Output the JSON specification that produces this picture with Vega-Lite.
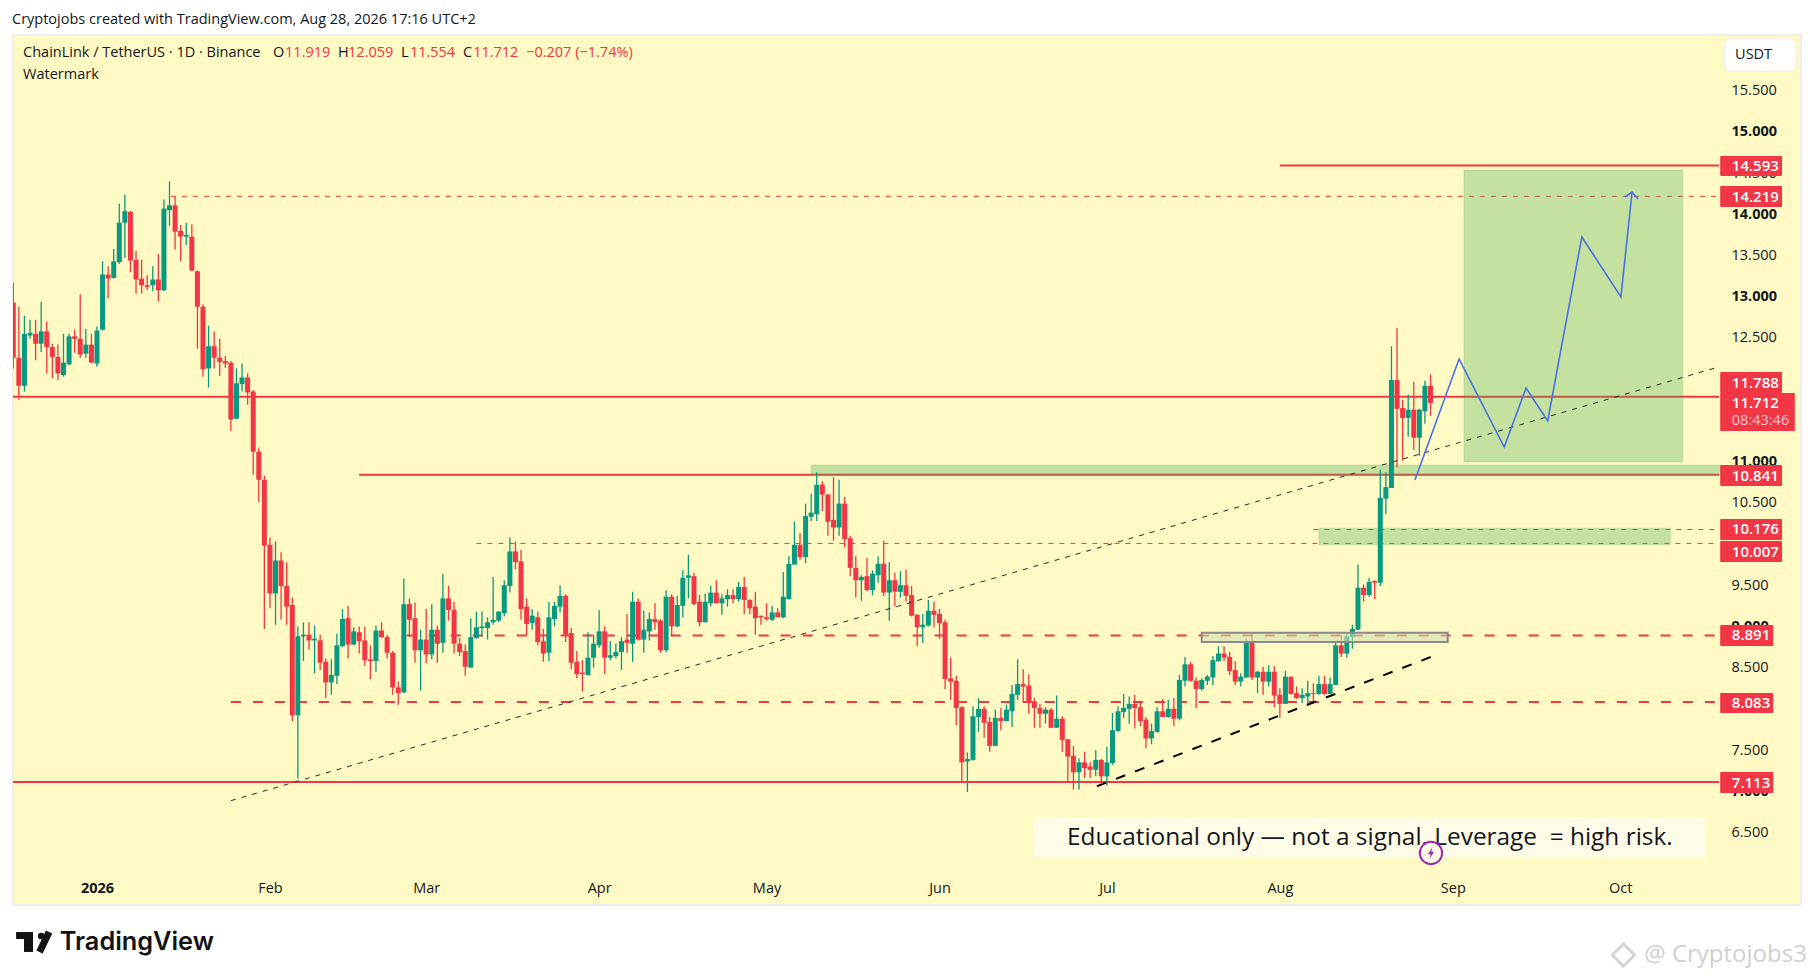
{
  "$schema": "https://vega.github.io/schema/vega-lite/v6.json",
  "width": 1788,
  "height": 870,
  "autosize": "none",
  "padding": {"left": 13, "top": 35, "right": 13, "bottom": 75},
  "background": "#ffffff",
  "title": {"text": "Cryptojobs created with TradingView.com, Aug 28, 2026 17:16 UTC+2", "anchor": "start", "frame": "group", "offset": 8, "dx": -1, "font": "Open Sans", "fontSize": 14.5, "fontWeight": "normal", "color": "#131722"},
  "config": {"view": {"fill": "#fff9c4", "stroke": "#eeeeee", "strokeWidth": 2}},
  "encoding": {
    "x": {"field": "date", "type": "temporal", "title": null,
      "scale": {"type": "utc", "padding": 0, "domain": ["2025-12-16T22:48:00Z", "2026-11-02T09:36:00Z"]},
      "axis": {"orient": "bottom", "offset": -24, "domain": false, "ticks": false, "grid": false, "labelPadding": 0, "labelBaseline": "top", "labelFont": "Open Sans", "labelFontSize": 14.5, "labelColor": "#131722", "labelOverlap": false, "labelFlush": false,
        "values": ["2026-01-01", "2026-02-01", "2026-03-01", "2026-04-01", "2026-05-01", "2026-06-01", "2026-07-01", "2026-08-01", "2026-09-01", "2026-10-01"],
        "labelExpr": "utcmonth(datum.value)===0 ? '2026' : utcFormat(datum.value,'%b')",
        "labelFontWeight": {"condition": {"test": "utcmonth(datum.value)===0", "value": "bold"}, "value": "normal"}}},
    "y": {"field": "price", "type": "quantitative", "title": null,
      "scale": {"domain": [5.619, 16.177], "zero": false, "nice": false},
      "axis": {"orient": "right", "offset": -70, "domain": false, "ticks": false, "grid": false, "labelPadding": 0, "labelFont": "Open Sans", "labelFontSize": 14.5, "labelColor": "#131722", "format": ".3f", "labelOverlap": false, "labelFlush": false,
        "values": [6.5, 7, 7.5, 8.5, 9, 9.5, 10.5, 11, 12.5, 13, 13.5, 14, 14.5, 15, 15.5],
        "labelFontWeight": {"condition": {"test": "datum.value % 1 === 0", "value": "bold"}, "value": "normal"}}}
  },
  "layer": [
    {
      "data": {"values": [
        {"date": "2025-12-16", "date2": "2026-10-18T17:00:00Z", "price": 11.788},
        {"date": "2025-12-16", "date2": "2026-10-18T17:00:00Z", "price": 7.113},
        {"date": "2026-08-01", "date2": "2026-10-18T17:00:00Z", "price": 14.593},
        {"date": "2026-02-17", "date2": "2026-10-18T17:00:00Z", "price": 10.841}
      ], "format": {"parse": {"date": "date", "date2": "date"}}},
      "mark": {"type": "rule", "color": "#f23645", "strokeWidth": 2, "clip": true},
      "encoding": {"x2": {"field": "date2"}}
    },
    {
      "data": {"values": [
        {"date": "2026-01-14T06:00:00Z", "date2": "2026-10-18T17:00:00Z", "price": 14.219},
        {"date": "2026-08-07", "date2": "2026-10-18T17:00:00Z", "price": 10.176},
        {"date": "2026-03-10", "date2": "2026-10-18T17:00:00Z", "price": 10.007}
      ], "format": {"parse": {"date": "date", "date2": "date"}}},
      "mark": {"type": "rule", "color": "#f23645", "strokeWidth": 1, "strokeDash": [5, 6]},
      "encoding": {"x2": {"field": "date2"}}
    },
    {
      "data": {"values": [
        {"date": "2026-02-25T12:00:00Z", "date2": "2026-10-18T17:00:00Z", "price": 8.891},
        {"date": "2026-01-25", "date2": "2026-10-18T17:00:00Z", "price": 8.083}
      ], "format": {"parse": {"date": "date", "date2": "date"}}},
      "mark": {"type": "rule", "color": "#f23645", "strokeWidth": 2, "strokeDash": [10, 12]},
      "encoding": {"x2": {"field": "date2"}}
    },
    {
      "data": {"values": [
        {"date": "2026-09-03", "date2": "2026-10-12T05:00:00Z", "price": 14.539, "price2": 10.995},
        {"date": "2026-05-09", "date2": "2026-10-19T06:00:00Z", "price": 10.959, "price2": 10.841},
        {"date": "2026-08-08", "date2": "2026-10-10", "price": 10.19, "price2": 9.99}
      ], "format": {"parse": {"date": "date", "date2": "date"}}},
      "mark": {"type": "rect", "color": "#4caf50", "fillOpacity": 0.32, "stroke": "#4caf50", "strokeOpacity": 0.1, "strokeWidth": 2},
      "encoding": {"x2": {"field": "date2"}, "y2": {"field": "price2"}}
    },
    {
      "data": {"name": "candles"},
      "mark": {"type": "rule", "strokeWidth": 1.3, "clip": true},
      "encoding": {
        "y": {"field": "h", "type": "quantitative", "title": null,
          "axis": {"orient": "right", "offset": -70, "domain": false, "ticks": false, "grid": false, "labelPadding": 0, "labelFont": "Open Sans", "labelFontSize": 14.5, "labelColor": "#131722", "format": ".3f", "labelOverlap": false, "labelFlush": false,
            "values": [6.5, 7, 7.5, 8.5, 9, 9.5, 10.5, 11, 12.5, 13, 13.5, 14, 14.5, 15, 15.5],
            "labelFontWeight": {"condition": {"test": "datum.value % 1 === 0", "value": "bold"}, "value": "normal"}},
          "scale": {"domain": [5.619, 16.177], "zero": false, "nice": false}},
        "y2": {"field": "l"},
        "color": {"condition": {"test": "datum.c < datum.o", "value": "#f23645"}, "value": "#089981"}
      }
    },
    {
      "data": {"name": "candles"},
      "mark": {"type": "bar", "size": 5, "clip": true},
      "encoding": {
        "y": {"field": "o", "type": "quantitative", "title": null,
          "axis": {"orient": "right", "offset": -70, "domain": false, "ticks": false, "grid": false, "labelPadding": 0, "labelFont": "Open Sans", "labelFontSize": 14.5, "labelColor": "#131722", "format": ".3f", "labelOverlap": false, "labelFlush": false,
            "values": [6.5, 7, 7.5, 8.5, 9, 9.5, 10.5, 11, 12.5, 13, 13.5, 14, 14.5, 15, 15.5],
            "labelFontWeight": {"condition": {"test": "datum.value % 1 === 0", "value": "bold"}, "value": "normal"}},
          "scale": {"domain": [5.619, 16.177], "zero": false, "nice": false}},
        "y2": {"field": "c"},
        "color": {"condition": {"test": "datum.c < datum.o", "value": "#f23645"}, "value": "#089981"}
      }
    },
    {
      "data": {"values": [{"date": "2026-07-18", "date2": "2026-08-31T02:00:00Z", "price": 8.924, "price2": 8.811}], "format": {"parse": {"date": "date", "date2": "date"}}},
      "mark": {"type": "rect", "fill": "#cfe0b0", "fillOpacity": 0.6, "stroke": "#8a8a8a", "strokeWidth": 2},
      "encoding": {"x2": {"field": "date2"}, "y2": {"field": "price2"}}
    },
    {
      "data": {"values": [{"date": "2026-01-25", "price": 6.885}, {"date": "2026-10-18", "price": 12.136}]},
      "mark": {"type": "line", "color": "#2a2a2a", "strokeWidth": 1, "strokeDash": [5, 6]}
    },
    {
      "data": {"values": [{"date": "2026-06-29T05:00:00Z", "price": 7.06}, {"date": "2026-08-28T02:00:00Z", "price": 8.63}]},
      "mark": {"type": "line", "color": "#000000", "strokeWidth": 2, "strokeDash": [10, 10.47]}
    },
    {
      "data": {"values": [
        {"leg": "path", "date": "2026-08-25T05:00:00Z", "price": 10.777},
        {"leg": "path", "date": "2026-09-02T03:00:00Z", "price": 12.245},
        {"leg": "path", "date": "2026-09-10T05:00:00Z", "price": 11.177},
        {"leg": "path", "date": "2026-09-14T03:00:00Z", "price": 11.893},
        {"leg": "path", "date": "2026-09-18", "price": 11.493},
        {"leg": "path", "date": "2026-09-24T03:00:00Z", "price": 13.726},
        {"leg": "path", "date": "2026-10-01T03:00:00Z", "price": 12.998},
        {"leg": "path", "date": "2026-10-03T03:00:00Z", "price": 14.272},
        {"leg": "head", "date": "2026-10-01T19:00:00Z", "price": 14.211},
        {"leg": "head", "date": "2026-10-03T03:00:00Z", "price": 14.272},
        {"leg": "head", "date": "2026-10-04T05:00:00Z", "price": 14.187}
      ]},
      "mark": {"type": "line", "color": "#4a72e8", "strokeWidth": 1.6},
      "encoding": {"detail": {"field": "leg"}}
    },
    {
      "data": {"values": [{"date": "2026-06-17T22:00:00Z", "date2": "2026-10-16T10:00:00Z", "price": 6.687, "price2": 6.189}], "format": {"parse": {"date": "date", "date2": "date"}}},
      "mark": {"type": "rect", "fill": "#fefbe6"},
      "encoding": {"x2": {"field": "date2"}, "y2": {"field": "price2"}}
    },
    {
      "data": {"values": [{"date": "2026-08-17T03:00:00Z", "price": 6.432, "label": "Educational only — not a signal. Leverage \u00a0= high risk."}]},
      "mark": {"type": "text", "font": "Open Sans", "fontSize": 24.4, "color": "#131722", "align": "center", "baseline": "middle"},
      "encoding": {"text": {"field": "label"}}
    },
    {
      "data": {"values": [{"date": "2026-08-28T02:00:00Z", "price": 6.25}]},
      "mark": {"type": "point", "shape": "circle", "filled": true, "fill": "#fff9e8", "stroke": "#9c27b0", "strokeWidth": 2, "size": 500, "opacity": 1}
    },
    {
      "data": {"values": [{"date": "2026-08-28T02:00:00Z", "price": 6.25}]},
      "mark": {"type": "point", "shape": "M0.25,-1 L-0.55,0.2 L-0.05,0.2 L-0.25,1 L0.55,-0.2 L0.05,-0.2 Z", "filled": true, "fill": "#9c27b0", "size": 130, "opacity": 1}
    },
    {
      "data": {"values": [
        {"date": "2026-10-18T22:00:00Z", "date2": "2026-10-30", "price": 14.71, "price2": 14.466},
        {"date": "2026-10-18T22:00:00Z", "date2": "2026-10-30", "price": 14.345, "price2": 14.09},
        {"date": "2026-10-18T22:00:00Z", "date2": "2026-10-30", "price": 12.087, "price2": 11.833},
        {"date": "2026-10-18T22:00:00Z", "date2": "2026-11-01T07:00:00Z", "price": 11.833, "price2": 11.371},
        {"date": "2026-10-18T22:00:00Z", "date2": "2026-10-30", "price": 10.959, "price2": 10.704},
        {"date": "2026-10-18T22:00:00Z", "date2": "2026-10-30", "price": 10.303, "price2": 10.049},
        {"date": "2026-10-18T22:00:00Z", "date2": "2026-10-30", "price": 10.036, "price2": 9.781},
        {"date": "2026-10-18T22:00:00Z", "date2": "2026-10-28T10:00:00Z", "price": 9.017, "price2": 8.762},
        {"date": "2026-10-18T22:00:00Z", "date2": "2026-10-28T10:00:00Z", "price": 8.192, "price2": 7.949},
        {"date": "2026-10-18T22:00:00Z", "date2": "2026-10-28T10:00:00Z", "price": 7.233, "price2": 6.978}
      ], "format": {"parse": {"date": "date", "date2": "date"}}},
      "mark": {"type": "rect", "fill": "#f23645", "cornerRadius": 1},
      "encoding": {"x2": {"field": "date2"}, "y2": {"field": "price2"}}
    },
    {
      "data": {"values": [
        {"date": "2026-10-21", "price": 14.588, "label": "14.593"},
        {"date": "2026-10-21", "price": 14.217, "label": "14.219"},
        {"date": "2026-10-21", "price": 11.954, "label": "11.788"},
        {"date": "2026-10-21", "price": 11.711, "label": "11.712"},
        {"date": "2026-10-21", "price": 10.83, "label": "10.841"},
        {"date": "2026-10-21", "price": 10.18, "label": "10.176"},
        {"date": "2026-10-21", "price": 9.9, "label": "10.007"},
        {"date": "2026-10-21", "price": 8.89, "label": "8.891"},
        {"date": "2026-10-21", "price": 8.07, "label": "8.083"},
        {"date": "2026-10-21", "price": 7.105, "label": "7.113"}
      ]},
      "mark": {"type": "text", "font": "Open Sans", "fontSize": 15, "fontWeight": 600, "color": "#ffffff", "align": "left", "baseline": "middle"},
      "encoding": {"text": {"field": "label"}}
    },
    {
      "data": {"values": [{"date": "2026-10-21", "price": 11.49, "label": "08:43:46"}]},
      "mark": {"type": "text", "font": "Open Sans", "fontSize": 14.5, "color": "#ffc4c9", "align": "left", "baseline": "middle"},
      "encoding": {"text": {"field": "label"}}
    },
    {
      "data": {"values": [{"date": "2026-10-19T17:00:00Z", "date2": "2026-11-01T12:00:00Z", "price": 16.13, "price2": 15.74}], "format": {"parse": {"date": "date", "date2": "date"}}},
      "mark": {"type": "rect", "fill": "#ffffff", "stroke": "#eeeeee", "cornerRadius": 6},
      "encoding": {"x2": {"field": "date2"}, "y2": {"field": "price2"}}
    },
    {
      "data": {"values": [
        {"date": "2026-10-21T14:00:00Z", "price": 15.93, "label": "USDT"},
        {"date": "2025-12-18T18:00:00Z", "price": 15.96, "label": "ChainLink / TetherUS · 1D · Binance"},
        {"date": "2025-12-18T18:00:00Z", "price": 15.69, "label": "Watermark"},
        {"date": "2026-02-01T13:00:00Z", "price": 15.96, "label": "O"},
        {"date": "2026-02-13T05:00:00Z", "price": 15.96, "label": "H"},
        {"date": "2026-02-24T12:00:00Z", "price": 15.96, "label": "L"},
        {"date": "2026-03-07T14:00:00Z", "price": 15.96, "label": "C"}
      ]},
      "mark": {"type": "text", "font": "Open Sans", "fontSize": 14.5, "color": "#131722", "align": "left", "baseline": "middle"},
      "encoding": {"text": {"field": "label"}}
    },
    {
      "data": {"values": [
        {"date": "2026-02-03T17:00:00Z", "price": 15.96, "label": "11.919"},
        {"date": "2026-02-15", "price": 15.96, "label": "12.059"},
        {"date": "2026-02-26T02:00:00Z", "price": 15.96, "label": "11.554"},
        {"date": "2026-03-09T10:00:00Z", "price": 15.96, "label": "11.712"},
        {"date": "2026-03-18T22:00:00Z", "price": 15.96, "label": "−0.207 (−1.74%)"}
      ]},
      "mark": {"type": "text", "font": "Open Sans", "fontSize": 14.5, "color": "#f23645", "align": "left", "baseline": "middle"},
      "encoding": {"text": {"field": "label"}}
    },
    {
      "data": {"values": [
        {"date": "2025-12-17T12:00:00Z", "date2": "2025-12-20T13:00:00Z", "price": 5.291, "price2": 5.206},
        {"date": "2025-12-18T22:00:00Z", "date2": "2025-12-20T13:00:00Z", "price": 5.291, "price2": 5.049}
      ], "format": {"parse": {"date": "date", "date2": "date"}}},
      "mark": {"type": "rect", "fill": "#131313"},
      "encoding": {"x2": {"field": "date2"}, "y2": {"field": "price2"}}
    },
    {
      "data": {"values": [{"date": "2025-12-22", "price": 5.243}]},
      "mark": {"type": "point", "shape": "circle", "filled": true, "fill": "#131313", "size": 45, "opacity": 1}
    },
    {
      "data": {"values": [{"date": "2025-12-21T17:00:00Z", "price": 5.049}, {"date": "2025-12-23T10:00:00Z", "price": 5.291}]},
      "mark": {"type": "line", "color": "#131313", "strokeWidth": 7}
    },
    {
      "data": {"values": [{"date": "2025-12-25T08:00:00Z", "price": 5.17, "label": "TradingView"}]},
      "mark": {"type": "text", "font": "Inter", "fontSize": 25.3, "fontWeight": 600, "color": "#131313", "align": "left", "baseline": "middle"},
      "encoding": {"text": {"field": "label"}}
    },
    {
      "data": {"values": [{"date": "2026-10-01T14:00:00Z", "price": 5.012}]},
      "mark": {"type": "point", "shape": "diamond", "filled": false, "stroke": "#d4d4d4", "strokeWidth": 3, "size": 500, "opacity": 1}
    },
    {
      "data": {"values": [{"date": "2026-10-05T07:00:00Z", "price": 5.012, "label": "@ Cryptojobs3"}]},
      "mark": {"type": "text", "font": "Open Sans", "fontSize": 24, "color": "#d0d0d0", "align": "left", "baseline": "middle"},
      "encoding": {"text": {"field": "label"}}
    }
  ],
  "datasets": {
    "candles": [
      {"date":"2025-12-17","o":12.93,"h":13.17,"l":12.13,"c":12.26},
      {"date":"2025-12-18","o":12.26,"h":12.88,"l":11.75,"c":11.92},
      {"date":"2025-12-19","o":11.92,"h":12.77,"l":11.85,"c":12.55},
      {"date":"2025-12-20","o":12.53,"h":12.72,"l":12.49,"c":12.56},
      {"date":"2025-12-21","o":12.55,"h":12.72,"l":12.23,"c":12.43},
      {"date":"2025-12-22","o":12.43,"h":12.94,"l":12.33,"c":12.58},
      {"date":"2025-12-23","o":12.58,"h":12.70,"l":12.07,"c":12.39},
      {"date":"2025-12-24","o":12.39,"h":12.43,"l":12.01,"c":12.27},
      {"date":"2025-12-25","o":12.27,"h":12.42,"l":11.99,"c":12.07},
      {"date":"2025-12-26","o":12.05,"h":12.55,"l":12.03,"c":12.20},
      {"date":"2025-12-27","o":12.18,"h":12.55,"l":12.17,"c":12.52},
      {"date":"2025-12-28","o":12.52,"h":12.60,"l":12.32,"c":12.49},
      {"date":"2025-12-29","o":12.49,"h":13.03,"l":12.26,"c":12.30},
      {"date":"2025-12-30","o":12.31,"h":12.61,"l":12.26,"c":12.42},
      {"date":"2025-12-31","o":12.42,"h":12.55,"l":12.20,"c":12.20},
      {"date":"2026-01-01","o":12.19,"h":12.64,"l":12.15,"c":12.59},
      {"date":"2026-01-02","o":12.60,"h":13.43,"l":12.59,"c":13.27},
      {"date":"2026-01-03","o":13.27,"h":13.37,"l":12.98,"c":13.22},
      {"date":"2026-01-04","o":13.23,"h":13.58,"l":13.22,"c":13.43},
      {"date":"2026-01-05","o":13.42,"h":14.13,"l":13.40,"c":13.90},
      {"date":"2026-01-06","o":13.90,"h":14.24,"l":13.47,"c":14.04},
      {"date":"2026-01-07","o":14.03,"h":14.04,"l":13.30,"c":13.44},
      {"date":"2026-01-08","o":13.45,"h":13.56,"l":13.04,"c":13.21},
      {"date":"2026-01-09","o":13.22,"h":13.45,"l":13.04,"c":13.14},
      {"date":"2026-01-10","o":13.14,"h":13.26,"l":13.08,"c":13.12},
      {"date":"2026-01-11","o":13.14,"h":13.37,"l":13.07,"c":13.21},
      {"date":"2026-01-12","o":13.21,"h":13.52,"l":12.94,"c":13.08},
      {"date":"2026-01-13","o":13.08,"h":14.18,"l":13.07,"c":14.07},
      {"date":"2026-01-14","o":14.05,"h":14.40,"l":13.86,"c":14.11},
      {"date":"2026-01-15","o":14.11,"h":14.22,"l":13.57,"c":13.79},
      {"date":"2026-01-16","o":13.80,"h":13.87,"l":13.43,"c":13.73},
      {"date":"2026-01-17","o":13.73,"h":13.90,"l":13.63,"c":13.75},
      {"date":"2026-01-18","o":13.73,"h":13.88,"l":13.31,"c":13.32},
      {"date":"2026-01-19","o":13.31,"h":13.32,"l":12.37,"c":12.88},
      {"date":"2026-01-20","o":12.88,"h":12.91,"l":12.03,"c":12.12},
      {"date":"2026-01-21","o":12.13,"h":12.65,"l":11.90,"c":12.40},
      {"date":"2026-01-22","o":12.40,"h":12.58,"l":12.13,"c":12.26},
      {"date":"2026-01-23","o":12.26,"h":12.49,"l":12.04,"c":12.21},
      {"date":"2026-01-24","o":12.22,"h":12.28,"l":12.14,"c":12.19},
      {"date":"2026-01-25","o":12.20,"h":12.22,"l":11.37,"c":11.51},
      {"date":"2026-01-26","o":11.52,"h":12.13,"l":11.52,"c":11.95},
      {"date":"2026-01-27","o":11.94,"h":12.19,"l":11.85,"c":12.02},
      {"date":"2026-01-28","o":12.02,"h":12.07,"l":11.69,"c":11.84},
      {"date":"2026-01-29","o":11.85,"h":11.87,"l":10.84,"c":11.12},
      {"date":"2026-01-30","o":11.12,"h":11.17,"l":10.51,"c":10.78},
      {"date":"2026-01-31","o":10.78,"h":10.83,"l":8.97,"c":9.98},
      {"date":"2026-02-01","o":9.99,"h":10.08,"l":9.22,"c":9.40},
      {"date":"2026-02-02","o":9.40,"h":10.03,"l":9.02,"c":9.80},
      {"date":"2026-02-03","o":9.80,"h":9.90,"l":9.08,"c":9.49},
      {"date":"2026-02-04","o":9.49,"h":9.78,"l":9.02,"c":9.24},
      {"date":"2026-02-05","o":9.26,"h":9.35,"l":7.85,"c":7.92},
      {"date":"2026-02-06","o":7.92,"h":9.00,"l":7.15,"c":8.88},
      {"date":"2026-02-07","o":8.88,"h":9.05,"l":8.58,"c":8.90},
      {"date":"2026-02-08","o":8.90,"h":9.05,"l":8.72,"c":8.83},
      {"date":"2026-02-09","o":8.83,"h":9.01,"l":8.43,"c":8.85},
      {"date":"2026-02-10","o":8.83,"h":8.90,"l":8.47,"c":8.56},
      {"date":"2026-02-11","o":8.57,"h":8.61,"l":8.13,"c":8.32},
      {"date":"2026-02-12","o":8.32,"h":8.60,"l":8.17,"c":8.41},
      {"date":"2026-02-13","o":8.40,"h":8.91,"l":8.30,"c":8.77},
      {"date":"2026-02-14","o":8.76,"h":9.21,"l":8.75,"c":9.09},
      {"date":"2026-02-15","o":9.10,"h":9.25,"l":8.61,"c":8.78},
      {"date":"2026-02-16","o":8.78,"h":8.99,"l":8.77,"c":8.94},
      {"date":"2026-02-17","o":8.93,"h":9.00,"l":8.67,"c":8.82},
      {"date":"2026-02-18","o":8.83,"h":9.00,"l":8.52,"c":8.59},
      {"date":"2026-02-19","o":8.60,"h":8.77,"l":8.36,"c":8.58},
      {"date":"2026-02-20","o":8.58,"h":9.01,"l":8.45,"c":8.95},
      {"date":"2026-02-21","o":8.95,"h":9.05,"l":8.86,"c":8.87},
      {"date":"2026-02-22","o":8.87,"h":8.90,"l":8.61,"c":8.68},
      {"date":"2026-02-23","o":8.68,"h":8.70,"l":8.17,"c":8.26},
      {"date":"2026-02-24","o":8.26,"h":8.33,"l":8.05,"c":8.19},
      {"date":"2026-02-25","o":8.20,"h":9.58,"l":8.19,"c":9.27},
      {"date":"2026-02-26","o":9.27,"h":9.34,"l":8.87,"c":9.08},
      {"date":"2026-02-27","o":9.10,"h":9.29,"l":8.56,"c":8.71},
      {"date":"2026-02-28","o":8.71,"h":8.96,"l":8.22,"c":8.84},
      {"date":"2026-03-01","o":8.84,"h":9.21,"l":8.55,"c":8.66},
      {"date":"2026-03-02","o":8.66,"h":9.27,"l":8.60,"c":8.96},
      {"date":"2026-03-03","o":8.96,"h":9.01,"l":8.56,"c":8.79},
      {"date":"2026-03-04","o":8.80,"h":9.64,"l":8.68,"c":9.34},
      {"date":"2026-03-05","o":9.34,"h":9.49,"l":9.07,"c":9.20},
      {"date":"2026-03-06","o":9.20,"h":9.30,"l":8.67,"c":8.79},
      {"date":"2026-03-07","o":8.79,"h":8.86,"l":8.64,"c":8.69},
      {"date":"2026-03-08","o":8.70,"h":8.78,"l":8.40,"c":8.51},
      {"date":"2026-03-09","o":8.50,"h":9.10,"l":8.50,"c":8.87},
      {"date":"2026-03-10","o":8.86,"h":9.18,"l":8.85,"c":8.99},
      {"date":"2026-03-11","o":8.98,"h":9.18,"l":8.87,"c":9.00},
      {"date":"2026-03-12","o":8.98,"h":9.11,"l":8.84,"c":9.05},
      {"date":"2026-03-13","o":9.05,"h":9.60,"l":9.02,"c":9.08},
      {"date":"2026-03-14","o":9.07,"h":9.18,"l":9.05,"c":9.18},
      {"date":"2026-03-15","o":9.16,"h":9.56,"l":9.12,"c":9.50},
      {"date":"2026-03-16","o":9.49,"h":10.08,"l":9.41,"c":9.91},
      {"date":"2026-03-17","o":9.91,"h":10.03,"l":9.69,"c":9.78},
      {"date":"2026-03-18","o":9.79,"h":9.93,"l":9.08,"c":9.21},
      {"date":"2026-03-19","o":9.24,"h":9.34,"l":8.89,"c":9.03},
      {"date":"2026-03-20","o":9.04,"h":9.21,"l":8.96,"c":9.13},
      {"date":"2026-03-21","o":9.11,"h":9.18,"l":8.77,"c":8.81},
      {"date":"2026-03-22","o":8.82,"h":8.97,"l":8.57,"c":8.67},
      {"date":"2026-03-23","o":8.68,"h":9.30,"l":8.58,"c":9.11},
      {"date":"2026-03-24","o":9.09,"h":9.30,"l":9.00,"c":9.25},
      {"date":"2026-03-25","o":9.24,"h":9.50,"l":9.17,"c":9.37},
      {"date":"2026-03-26","o":9.37,"h":9.39,"l":8.81,"c":8.90},
      {"date":"2026-03-27","o":8.92,"h":8.98,"l":8.48,"c":8.56},
      {"date":"2026-03-28","o":8.57,"h":8.70,"l":8.37,"c":8.42},
      {"date":"2026-03-29","o":8.44,"h":8.59,"l":8.21,"c":8.42},
      {"date":"2026-03-30","o":8.41,"h":8.93,"l":8.40,"c":8.62},
      {"date":"2026-03-31","o":8.62,"h":8.90,"l":8.50,"c":8.79},
      {"date":"2026-04-01","o":8.77,"h":9.20,"l":8.74,"c":8.94},
      {"date":"2026-04-02","o":8.94,"h":9.00,"l":8.42,"c":8.62},
      {"date":"2026-04-03","o":8.62,"h":8.82,"l":8.59,"c":8.65},
      {"date":"2026-04-04","o":8.64,"h":8.79,"l":8.61,"c":8.69},
      {"date":"2026-04-05","o":8.69,"h":8.87,"l":8.47,"c":8.82},
      {"date":"2026-04-06","o":8.84,"h":9.15,"l":8.68,"c":8.80},
      {"date":"2026-04-07","o":8.79,"h":9.42,"l":8.57,"c":9.30},
      {"date":"2026-04-08","o":9.30,"h":9.34,"l":8.83,"c":8.84},
      {"date":"2026-04-09","o":8.84,"h":9.19,"l":8.68,"c":8.96},
      {"date":"2026-04-10","o":8.94,"h":9.17,"l":8.83,"c":9.09},
      {"date":"2026-04-11","o":9.09,"h":9.28,"l":8.96,"c":9.05},
      {"date":"2026-04-12","o":9.07,"h":9.09,"l":8.68,"c":8.71},
      {"date":"2026-04-13","o":8.71,"h":9.44,"l":8.69,"c":9.36},
      {"date":"2026-04-14","o":9.36,"h":9.39,"l":8.88,"c":9.00},
      {"date":"2026-04-15","o":9.00,"h":9.37,"l":8.99,"c":9.26},
      {"date":"2026-04-16","o":9.25,"h":9.68,"l":9.11,"c":9.59},
      {"date":"2026-04-17","o":9.59,"h":9.87,"l":9.34,"c":9.62},
      {"date":"2026-04-18","o":9.61,"h":9.65,"l":9.26,"c":9.27},
      {"date":"2026-04-19","o":9.30,"h":9.38,"l":9.00,"c":9.05},
      {"date":"2026-04-20","o":9.05,"h":9.40,"l":9.05,"c":9.30},
      {"date":"2026-04-21","o":9.28,"h":9.49,"l":9.24,"c":9.41},
      {"date":"2026-04-22","o":9.41,"h":9.56,"l":9.28,"c":9.28},
      {"date":"2026-04-23","o":9.28,"h":9.39,"l":9.14,"c":9.34},
      {"date":"2026-04-24","o":9.33,"h":9.45,"l":9.24,"c":9.38},
      {"date":"2026-04-25","o":9.38,"h":9.45,"l":9.28,"c":9.33},
      {"date":"2026-04-26","o":9.33,"h":9.54,"l":9.30,"c":9.48},
      {"date":"2026-04-27","o":9.48,"h":9.60,"l":9.15,"c":9.32},
      {"date":"2026-04-28","o":9.32,"h":9.33,"l":9.15,"c":9.22},
      {"date":"2026-04-29","o":9.24,"h":9.42,"l":8.90,"c":9.10},
      {"date":"2026-04-30","o":9.13,"h":9.13,"l":9.02,"c":9.11},
      {"date":"2026-05-01","o":9.11,"h":9.28,"l":9.07,"c":9.09},
      {"date":"2026-05-02","o":9.08,"h":9.25,"l":9.07,"c":9.17},
      {"date":"2026-05-03","o":9.17,"h":9.22,"l":9.11,"c":9.11},
      {"date":"2026-05-04","o":9.11,"h":9.66,"l":9.10,"c":9.36},
      {"date":"2026-05-05","o":9.33,"h":9.85,"l":9.33,"c":9.76},
      {"date":"2026-05-06","o":9.75,"h":10.27,"l":9.75,"c":9.99},
      {"date":"2026-05-07","o":9.99,"h":10.13,"l":9.81,"c":9.84},
      {"date":"2026-05-08","o":9.84,"h":10.49,"l":9.77,"c":10.34},
      {"date":"2026-05-09","o":10.33,"h":10.61,"l":10.28,"c":10.38},
      {"date":"2026-05-10","o":10.36,"h":10.87,"l":10.28,"c":10.72},
      {"date":"2026-05-11","o":10.72,"h":10.76,"l":10.40,"c":10.60},
      {"date":"2026-05-12","o":10.60,"h":10.61,"l":10.10,"c":10.27},
      {"date":"2026-05-13","o":10.29,"h":10.81,"l":10.04,"c":10.20},
      {"date":"2026-05-14","o":10.20,"h":10.78,"l":10.10,"c":10.49},
      {"date":"2026-05-15","o":10.49,"h":10.57,"l":9.96,"c":10.06},
      {"date":"2026-05-16","o":10.07,"h":10.10,"l":9.61,"c":9.71},
      {"date":"2026-05-17","o":9.71,"h":9.85,"l":9.35,"c":9.56},
      {"date":"2026-05-18","o":9.56,"h":9.62,"l":9.31,"c":9.60},
      {"date":"2026-05-19","o":9.61,"h":9.83,"l":9.43,"c":9.44},
      {"date":"2026-05-20","o":9.44,"h":9.68,"l":9.38,"c":9.64},
      {"date":"2026-05-21","o":9.62,"h":9.85,"l":9.53,"c":9.76},
      {"date":"2026-05-22","o":9.76,"h":10.04,"l":9.37,"c":9.41},
      {"date":"2026-05-23","o":9.41,"h":9.78,"l":9.07,"c":9.56},
      {"date":"2026-05-24","o":9.56,"h":9.65,"l":9.24,"c":9.42},
      {"date":"2026-05-25","o":9.42,"h":9.67,"l":9.35,"c":9.50},
      {"date":"2026-05-26","o":9.50,"h":9.69,"l":9.30,"c":9.37},
      {"date":"2026-05-27","o":9.38,"h":9.49,"l":9.12,"c":9.13},
      {"date":"2026-05-28","o":9.14,"h":9.15,"l":8.76,"c":8.99},
      {"date":"2026-05-29","o":8.99,"h":9.15,"l":8.80,"c":9.02},
      {"date":"2026-05-30","o":9.01,"h":9.32,"l":9.00,"c":9.19},
      {"date":"2026-05-31","o":9.19,"h":9.30,"l":8.99,"c":9.14},
      {"date":"2026-06-01","o":9.15,"h":9.21,"l":8.85,"c":9.04},
      {"date":"2026-06-02","o":9.05,"h":9.08,"l":8.24,"c":8.36},
      {"date":"2026-06-03","o":8.37,"h":8.62,"l":8.11,"c":8.33},
      {"date":"2026-06-04","o":8.34,"h":8.40,"l":7.80,"c":8.01},
      {"date":"2026-06-05","o":8.02,"h":8.03,"l":7.11,"c":7.35},
      {"date":"2026-06-06","o":7.36,"h":7.47,"l":6.99,"c":7.39},
      {"date":"2026-06-07","o":7.38,"h":8.03,"l":7.37,"c":7.91},
      {"date":"2026-06-08","o":7.90,"h":8.13,"l":7.72,"c":8.00},
      {"date":"2026-06-09","o":8.00,"h":8.03,"l":7.65,"c":7.83},
      {"date":"2026-06-10","o":7.84,"h":7.90,"l":7.48,"c":7.55},
      {"date":"2026-06-11","o":7.55,"h":7.99,"l":7.55,"c":7.89},
      {"date":"2026-06-12","o":7.89,"h":8.01,"l":7.74,"c":7.85},
      {"date":"2026-06-13","o":7.85,"h":8.05,"l":7.85,"c":7.99},
      {"date":"2026-06-14","o":7.97,"h":8.29,"l":7.78,"c":8.18},
      {"date":"2026-06-15","o":8.17,"h":8.60,"l":8.11,"c":8.30},
      {"date":"2026-06-16","o":8.30,"h":8.48,"l":8.08,"c":8.27},
      {"date":"2026-06-17","o":8.28,"h":8.42,"l":7.94,"c":8.08},
      {"date":"2026-06-18","o":8.09,"h":8.13,"l":7.77,"c":8.01},
      {"date":"2026-06-19","o":8.01,"h":8.06,"l":7.77,"c":7.94},
      {"date":"2026-06-20","o":7.94,"h":8.02,"l":7.82,"c":7.99},
      {"date":"2026-06-21","o":7.99,"h":8.01,"l":7.77,"c":7.77},
      {"date":"2026-06-22","o":7.77,"h":8.16,"l":7.77,"c":7.88},
      {"date":"2026-06-23","o":7.88,"h":7.91,"l":7.48,"c":7.62},
      {"date":"2026-06-24","o":7.63,"h":7.63,"l":7.11,"c":7.42},
      {"date":"2026-06-25","o":7.43,"h":7.55,"l":7.02,"c":7.23},
      {"date":"2026-06-26","o":7.23,"h":7.40,"l":7.02,"c":7.35},
      {"date":"2026-06-27","o":7.35,"h":7.48,"l":7.16,"c":7.28},
      {"date":"2026-06-28","o":7.30,"h":7.35,"l":7.16,"c":7.26},
      {"date":"2026-06-29","o":7.26,"h":7.50,"l":7.18,"c":7.38},
      {"date":"2026-06-30","o":7.38,"h":7.39,"l":7.11,"c":7.18},
      {"date":"2026-07-01","o":7.18,"h":7.54,"l":7.07,"c":7.35},
      {"date":"2026-07-02","o":7.34,"h":7.95,"l":7.32,"c":7.74},
      {"date":"2026-07-03","o":7.73,"h":8.03,"l":7.72,"c":7.97},
      {"date":"2026-07-04","o":7.96,"h":8.18,"l":7.89,"c":8.01},
      {"date":"2026-07-05","o":8.00,"h":8.15,"l":7.82,"c":8.06},
      {"date":"2026-07-06","o":8.06,"h":8.17,"l":7.76,"c":8.01},
      {"date":"2026-07-07","o":8.02,"h":8.08,"l":7.79,"c":7.85},
      {"date":"2026-07-08","o":7.87,"h":7.90,"l":7.52,"c":7.64},
      {"date":"2026-07-09","o":7.64,"h":7.82,"l":7.57,"c":7.73},
      {"date":"2026-07-10","o":7.72,"h":8.02,"l":7.71,"c":7.97},
      {"date":"2026-07-11","o":7.97,"h":8.12,"l":7.90,"c":7.90},
      {"date":"2026-07-12","o":7.90,"h":8.11,"l":7.89,"c":8.00},
      {"date":"2026-07-13","o":8.00,"h":8.13,"l":7.79,"c":7.88},
      {"date":"2026-07-14","o":7.88,"h":8.41,"l":7.86,"c":8.35},
      {"date":"2026-07-15","o":8.34,"h":8.63,"l":8.27,"c":8.54},
      {"date":"2026-07-16","o":8.54,"h":8.57,"l":8.33,"c":8.34},
      {"date":"2026-07-17","o":8.34,"h":8.38,"l":8.01,"c":8.24},
      {"date":"2026-07-18","o":8.24,"h":8.37,"l":8.22,"c":8.35},
      {"date":"2026-07-19","o":8.34,"h":8.41,"l":8.29,"c":8.39},
      {"date":"2026-07-20","o":8.38,"h":8.64,"l":8.29,"c":8.59},
      {"date":"2026-07-21","o":8.58,"h":8.76,"l":8.57,"c":8.67},
      {"date":"2026-07-22","o":8.67,"h":8.76,"l":8.58,"c":8.62},
      {"date":"2026-07-23","o":8.63,"h":8.69,"l":8.41,"c":8.46},
      {"date":"2026-07-24","o":8.47,"h":8.58,"l":8.29,"c":8.33},
      {"date":"2026-07-25","o":8.33,"h":8.43,"l":8.27,"c":8.39},
      {"date":"2026-07-26","o":8.38,"h":8.85,"l":8.38,"c":8.82},
      {"date":"2026-07-27","o":8.82,"h":8.91,"l":8.35,"c":8.38},
      {"date":"2026-07-28","o":8.38,"h":8.46,"l":8.19,"c":8.45},
      {"date":"2026-07-29","o":8.45,"h":8.51,"l":8.17,"c":8.33},
      {"date":"2026-07-30","o":8.33,"h":8.53,"l":8.27,"c":8.45},
      {"date":"2026-07-31","o":8.45,"h":8.52,"l":8.02,"c":8.16},
      {"date":"2026-08-01","o":8.17,"h":8.25,"l":7.89,"c":8.06},
      {"date":"2026-08-02","o":8.06,"h":8.46,"l":8.06,"c":8.39},
      {"date":"2026-08-03","o":8.39,"h":8.39,"l":8.17,"c":8.18},
      {"date":"2026-08-04","o":8.19,"h":8.27,"l":8.12,"c":8.13},
      {"date":"2026-08-05","o":8.13,"h":8.25,"l":8.07,"c":8.17},
      {"date":"2026-08-06","o":8.15,"h":8.34,"l":8.06,"c":8.19},
      {"date":"2026-08-07","o":8.19,"h":8.31,"l":8.06,"c":8.18},
      {"date":"2026-08-08","o":8.18,"h":8.40,"l":8.17,"c":8.30},
      {"date":"2026-08-09","o":8.30,"h":8.40,"l":8.17,"c":8.18},
      {"date":"2026-08-10","o":8.18,"h":8.38,"l":8.18,"c":8.30},
      {"date":"2026-08-11","o":8.29,"h":8.82,"l":8.29,"c":8.77},
      {"date":"2026-08-12","o":8.77,"h":8.90,"l":8.63,"c":8.67},
      {"date":"2026-08-13","o":8.67,"h":8.91,"l":8.62,"c":8.88},
      {"date":"2026-08-14","o":8.87,"h":9.02,"l":8.73,"c":8.97},
      {"date":"2026-08-15","o":8.96,"h":9.75,"l":8.96,"c":9.47},
      {"date":"2026-08-16","o":9.47,"h":9.51,"l":9.30,"c":9.38},
      {"date":"2026-08-17","o":9.38,"h":9.59,"l":9.36,"c":9.54},
      {"date":"2026-08-18","o":9.55,"h":9.56,"l":9.33,"c":9.53},
      {"date":"2026-08-19","o":9.53,"h":10.90,"l":9.49,"c":10.56},
      {"date":"2026-08-20","o":10.55,"h":10.87,"l":10.36,"c":10.69},
      {"date":"2026-08-21","o":10.68,"h":12.40,"l":10.68,"c":11.99},
      {"date":"2026-08-22","o":11.99,"h":12.62,"l":10.93,"c":11.64},
      {"date":"2026-08-23","o":11.65,"h":11.75,"l":11.01,"c":11.53},
      {"date":"2026-08-24","o":11.53,"h":11.81,"l":11.30,"c":11.63},
      {"date":"2026-08-25","o":11.63,"h":11.97,"l":11.14,"c":11.29},
      {"date":"2026-08-26","o":11.29,"h":11.64,"l":11.07,"c":11.63},
      {"date":"2026-08-27","o":11.61,"h":11.98,"l":11.46,"c":11.92},
      {"date":"2026-08-28","o":11.919,"h":12.059,"l":11.554,"c":11.712}
    ]
  }
}
